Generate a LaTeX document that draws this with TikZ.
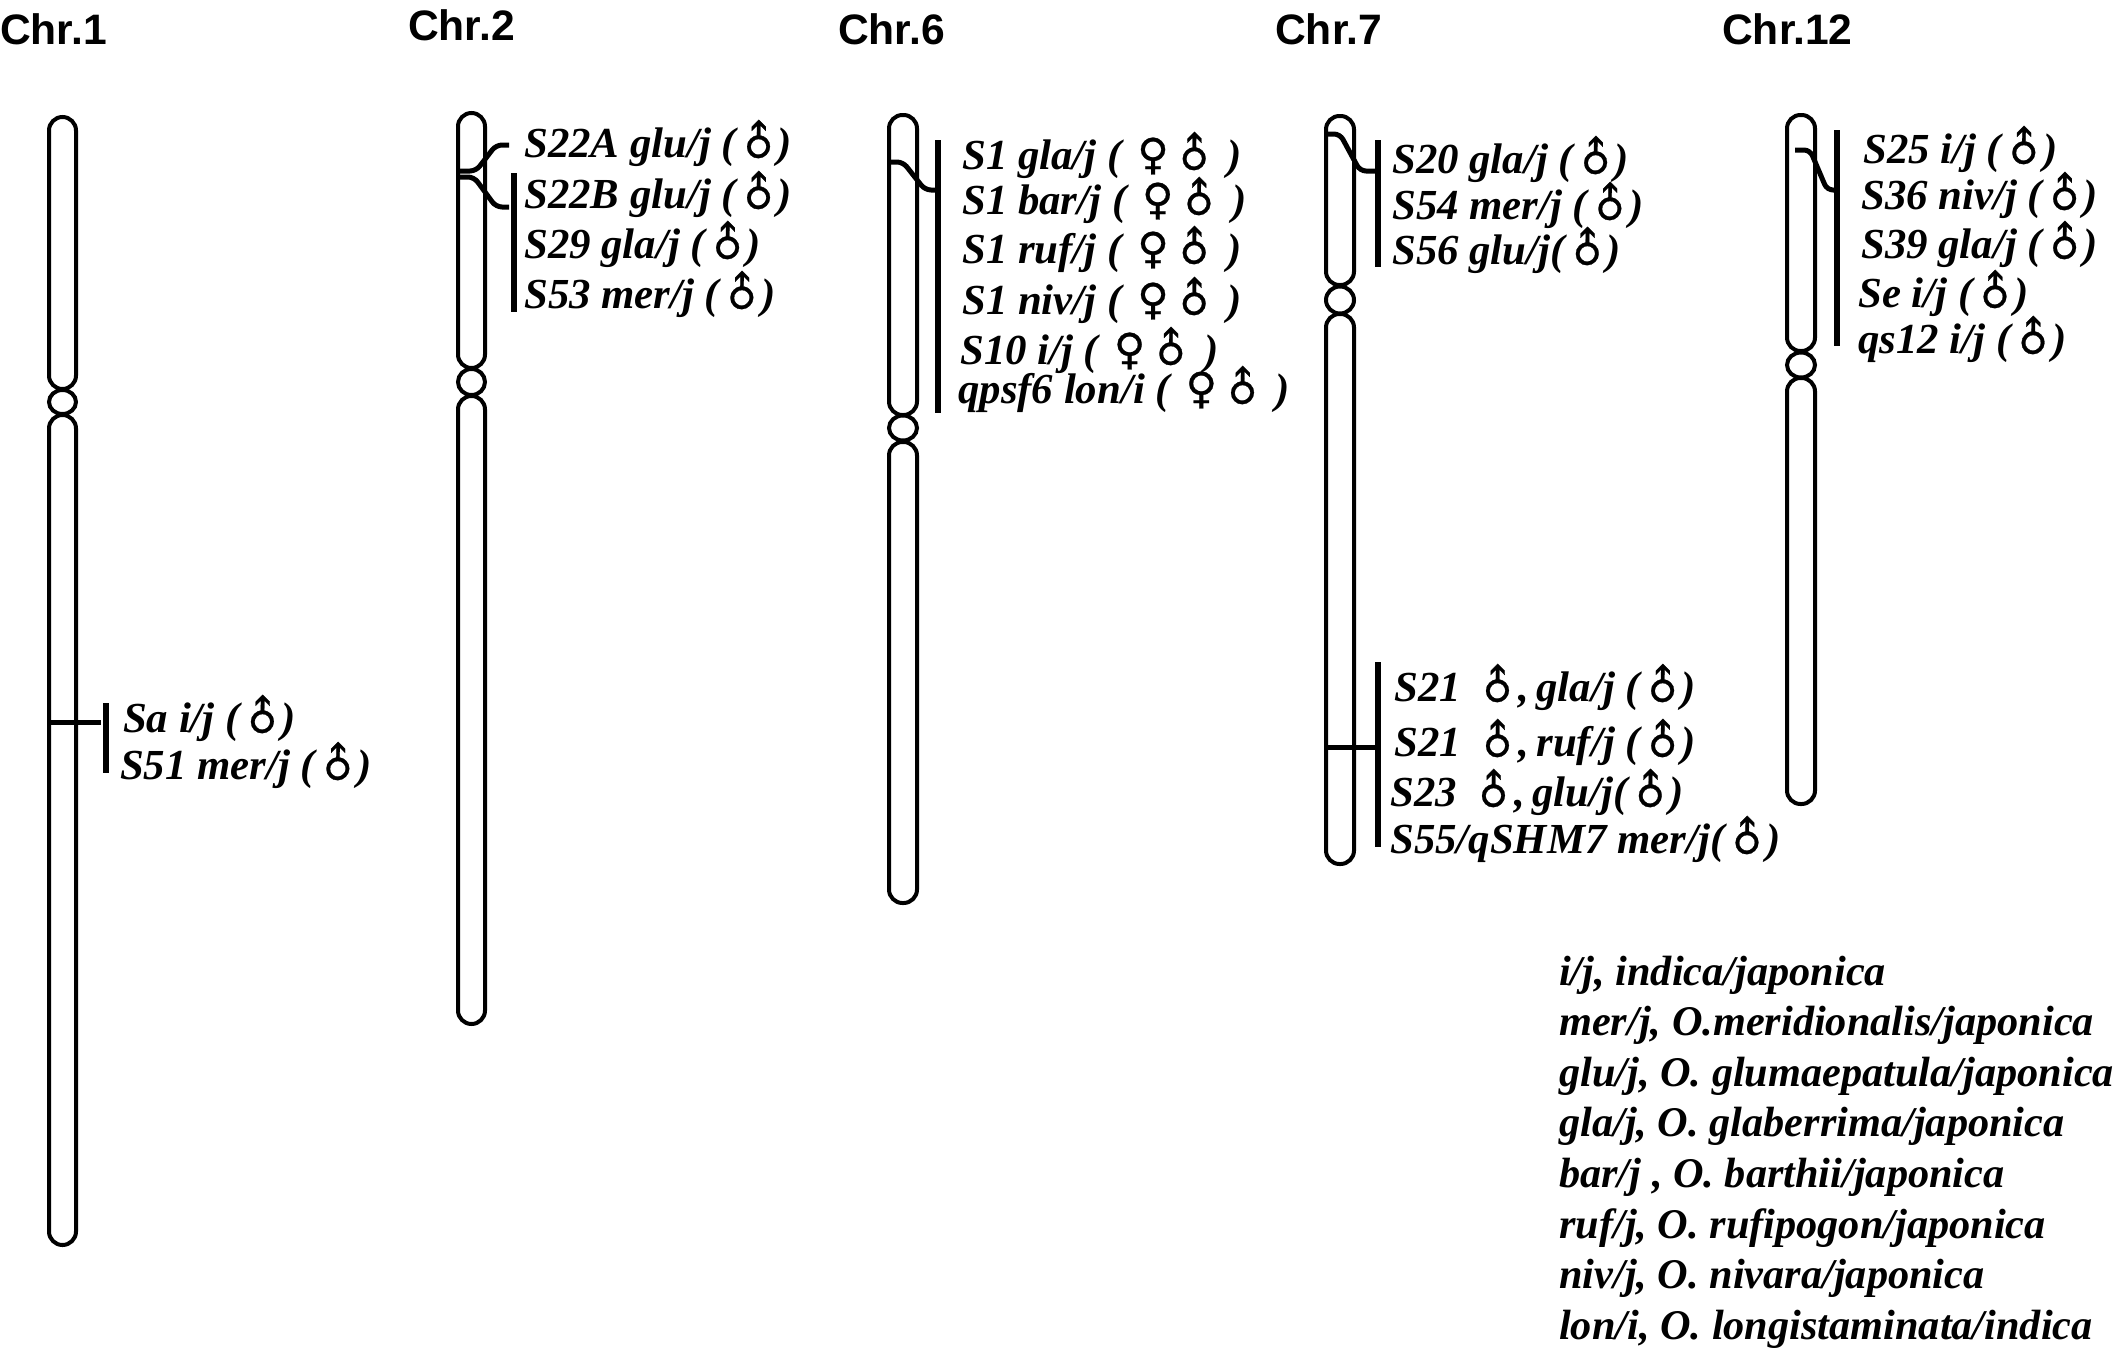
\documentclass[tikz,border=0pt]{standalone}
\usepackage{graphicx}
\usepackage{fontspec}
\setmainfont{Liberation Serif}
\newfontfamily\chrfont{Liberation Sans}
\newfontfamily\symfont[FakeBold=0.6]{DejaVu Sans}
\newcommand{\Mal}{\makebox[19pt][c]{\symfont\fontsize{41}{44}\selectfont\upshape\mdseries\raisebox{1pt}{\rotatebox[origin=c]{45}{♂}}}}
\newcommand{\Fem}{\makebox[29pt][c]{\symfont\fontsize{43}{44}\selectfont\upshape\mdseries ♀}}
\newcommand{\One}{(\hspace{13pt}\Mal\hspace{10pt})}
\newcommand{\Two}{(\hspace{17pt}\Fem\hspace{17pt}\Mal\hspace{24pt})}
\newcommand{\Pre}{\hspace{27pt}\Mal\hspace{12pt},\hspace{7pt}}
\tikzset{
  chromo/.style={draw=black,line width=4pt,rounded corners=13.5pt},
  cen/.style={draw=black,line width=4pt},
  bar/.style={draw=black,line width=6pt},
  link/.style={draw=black,line width=5pt,rounded corners=6pt},
  lab/.style={anchor=base west,inner sep=0pt,font=\fontsize{42.8}{50}\selectfont\bfseries\itshape},
  leg/.style={anchor=base west,inner sep=0pt,font=\fontsize{42.3}{50}\selectfont\bfseries\itshape},
  ttl/.style={anchor=base west,inner sep=0pt,font=\chrfont\fontsize{42.6}{50}\selectfont\bfseries}
}
\newcommand{\chromosome}[7]{% xl xr top armbottom ceny lowtop bottom
  \draw[chromo] (#1,#3) rectangle (#2,#4);
  \draw[cen] ({(#1+#2)/2},#5) ellipse ({(#2-#1)/2} and {(#6-#4)/2-1});
  \draw[chromo] (#1,#6) rectangle (#2,#7);
}
\begin{document}
\begin{tikzpicture}[x=1pt,y=-1pt]
\useasboundingbox (0,0) rectangle (2126,1363);
% titles
\node[ttl] (t1) at (0,44) {Chr.1};
\node[ttl] (t2) at (408,40) {Chr.2};
\node[ttl] (t6) at (838,44) {Chr.6};
\node[ttl] (t7) at (1275,44) {Chr.7};
\node[ttl] (t12) at (1722,44) {Chr.12};
% chromosomes
\chromosome{49}{76}{117}{389}{402}{415}{1245}
\chromosome{458}{485}{113}{368}{382}{396}{1024}
\chromosome{889}{917}{115}{415}{428}{442}{903}
\chromosome{1326}{1354}{116}{285}{300}{314}{864}
\chromosome{1787}{1815}{115}{351}{365}{378}{804}
% Chr.1
\coordinate (b1a) at (106,703); \coordinate (b1b) at (106,773);
\draw[bar] (b1a) -- (b1b);
\coordinate (l1a) at (50,722); \coordinate (l1b) at (101,722);
\draw[link] (l1a) -- (l1b);
\node[lab] (sa) at (123,732) {Sa i/j \One};
\node[lab] (s51) at (120,779) {S51 mer/j \One};
% Chr.2
\coordinate (b2a) at (514,173); \coordinate (b2b) at (514,312);
\draw[bar] (b2a) -- (b2b);
\coordinate (l2a) at (459,171); \coordinate (l2b) at (509,145);
\coordinate (l2c) at (459,177); \coordinate (l2d) at (509,207);
\draw[link] (l2a) -- (476,171) -- (496,145) -- (l2b);
\draw[link] (l2c) -- (474,177) -- (496,207) -- (l2d);
\node[lab] (s22a) at (524,157) {S22A glu/j \One};
\node[lab] (s22b) at (524,208) {S22B glu/j \One};
\node[lab] (s29) at (524,258) {S29 gla/j \One};
\node[lab] (s53) at (524,308) {S53 mer/j \One};
% Chr.6
\coordinate (b6a) at (938,140); \coordinate (b6b) at (938,413);
\draw[bar] (b6a) -- (b6b);
\coordinate (l6a) at (890,162); \coordinate (l6b) at (936,190);
\draw[link] (l6a) -- (903,162) -- (925,190) -- (l6b);
\node[lab] (s1a) at (962,169) {S1 gla/j \Two};
\node[lab] (s1b) at (962,214) {S1 bar/j \Two};
\node[lab] (s1c) at (962,263) {S1 ruf/j \Two};
\node[lab] (s1d) at (962,314) {S1 niv/j \Two};
\node[lab] (s10) at (960,364) {S10 i/j \Two};
\node[lab] (q6) at (958,403) {qpsf6 lon/i \Two};
% Chr.7
\coordinate (b7a) at (1378,140); \coordinate (b7b) at (1378,267);
\draw[bar] (b7a) -- (b7b);
\coordinate (l7a) at (1328,134); \coordinate (l7b) at (1376,171);
\draw[link] (l7a) -- (1340,134) -- (1360,171) -- (l7b);
\node[lab] (s20) at (1392,173) {S20 gla/j \One};
\node[lab] (s54) at (1392,219) {S54 mer/j \One};
\node[lab] (s56) at (1392,264) {S56 glu/j\One};
\coordinate (b7c) at (1378,662); \coordinate (b7d) at (1378,847);
\draw[bar] (b7c) -- (b7d);
\coordinate (l7c) at (1327,747); \coordinate (l7d) at (1376,747);
\draw[link] (l7c) -- (l7d);
\node[lab] (s21a) at (1394,701) {S21\Pre gla/j \One};
\node[lab] (s21b) at (1394,756) {S21\Pre ruf/j \One};
\node[lab] (s23) at (1390,806) {S23\Pre glu/j\One};
\node[lab] (s55) at (1390,853) {S55/qSHM7 mer/j\One};
% Chr.12
\coordinate (b12a) at (1837,130); \coordinate (b12b) at (1837,346);
\draw[bar] (b12a) -- (b12b);
\coordinate (l12a) at (1795,150); \coordinate (l12b) at (1835,190);
\draw[link] (l12a) -- (1810,150) -- (1827,190) -- (l12b);
\node[lab] (s25) at (1863,163) {S25 i/j \One};
\node[lab] (s36) at (1861,209) {S36 niv/j \One};
\node[lab] (s39) at (1861,258) {S39 gla/j \One};
\node[lab] (se) at (1858,307) {Se i/j \One};
\node[lab] (qs12) at (1858,353) {qs12 i/j \One};
% legend
\node[leg] (g1) at (1559,985) {i/j, indica/japonica};
\node[leg] (g2) at (1559,1035) {mer/j, O.meridionalis/japonica};
\node[leg] (g3) at (1559,1086) {glu/j, O. glumaepatula/japonica};
\node[leg] (g4) at (1559,1136) {gla/j, O. glaberrima/japonica};
\node[leg] (g5) at (1559,1187) {bar/j , O. barthii/japonica};
\node[leg] (g6) at (1559,1238) {ruf/j, O. rufipogon/japonica};
\node[leg] (g7) at (1559,1288) {niv/j, O. nivara/japonica};
\node[leg] (g8) at (1559,1339) {lon/i, O. longistaminata/indica};
\end{tikzpicture}
\end{document}
